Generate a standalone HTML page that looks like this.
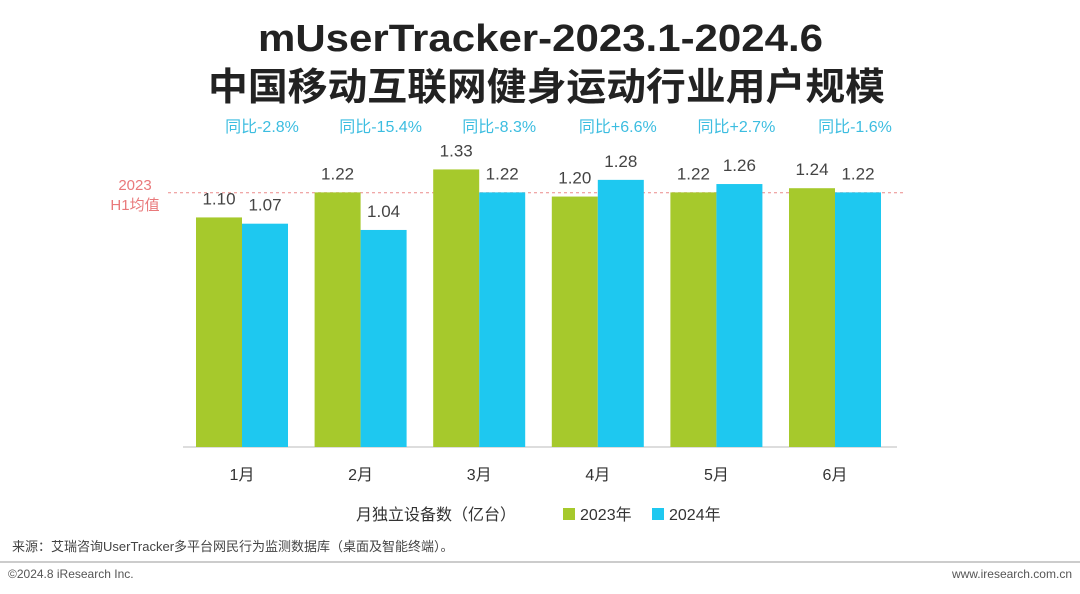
<!DOCTYPE html>
<html><head><meta charset="utf-8"><style>
body{margin:0;width:1080px;height:589px;background:#fff;overflow:hidden;font-family:"Liberation Sans","Noto Sans CJK SC",sans-serif}
svg text{font-family:"Liberation Sans","Noto Sans CJK SC",sans-serif}
</style></head><body>
<svg id="c" width="1080" height="589">
<text x="258" y="51" textLength="565" lengthAdjust="spacingAndGlyphs" font-size="38" font-weight="bold" fill="#222">mUserTracker-2023.1-2024.6</text>
<text x="208" y="100" textLength="677" lengthAdjust="spacingAndGlyphs" font-size="38" font-weight="bold" fill="#222">中国移动互联网健身运动行业用户规模</text>
<line x1="183" y1="447" x2="897" y2="447" stroke="#bbb" stroke-width="1"/>
<text x="135" y="190" text-anchor="middle" font-size="15" fill="#e9797b">2023</text>
<text x="135" y="210" text-anchor="middle" font-size="15" fill="#e9797b">H1均值</text>
<text x="436" y="520" text-anchor="middle" font-size="16" fill="#333">月独立设备数（亿台）</text>
<rect x="563" y="508" width="12" height="12" fill="#a6c92c"/>
<text x="580" y="520" font-size="16" fill="#333">2023年</text>
<rect x="652" y="508" width="12" height="12" fill="#1ec8f0"/>
<text x="669" y="520" font-size="16" fill="#333">2024年</text>
<text x="12" y="551" font-size="13" fill="#444">来源：艾瑞咨询UserTracker多平台网民行为监测数据库（桌面及智能终端）。</text>
<line x1="0" y1="562" x2="1080" y2="562" stroke="#999"/>
<text x="8" y="578" font-size="12" fill="#555">©2024.8 iResearch Inc.</text>
<text x="1072" y="578" text-anchor="end" font-size="12" fill="#555">www.iresearch.com.cn</text>
</svg>
<script>
const months=["1月","2月","3月","4月","5月","6月"];
const v2023=[1.10,1.22,1.33,1.20,1.22,1.24];
const v2024=[1.07,1.04,1.22,1.28,1.26,1.22];
const yoy=["同比-2.8%","同比-15.4%","同比-8.3%","同比+6.6%","同比+2.7%","同比-1.6%"];
const svg=document.getElementById('c');const NS="http://www.w3.org/2000/svg";
const y=v=>447-v*208.7;const cx=i=>242+i*118.6;const bw=46;
function mk(t,a){const e=document.createElementNS(NS,t);for(const k in a)e.setAttribute(k,a[k]);svg.appendChild(e);return e;}
const avg=v2023.reduce((a,b)=>a+b,0)/v2023.length;
const al=mk('line',{x1:168,x2:903,y1:y(avg),y2:y(avg),stroke:'#ec8a8a','stroke-dasharray':'3,3'});


months.forEach((m,i)=>{
 const b1=mk('rect',{x:cx(i)-bw,y:y(v2023[i]),width:bw,height:447-y(v2023[i]),fill:'#a6c92c'});
 
 
 const b2=mk('rect',{x:cx(i),y:y(v2024[i]),width:bw,height:447-y(v2024[i]),fill:'#1ec8f0'});
 
 
 const t1=mk('text',{x:cx(i)-bw/2,y:y(v2023[i])-13,'text-anchor':'middle','font-size':17,fill:'#444'});t1.textContent=v2023[i].toFixed(2);
 
 
 const t2=mk('text',{x:cx(i)+bw/2,y:y(v2024[i])-13,'text-anchor':'middle','font-size':17,fill:'#444'});t2.textContent=v2024[i].toFixed(2);
 
 
 const ml=mk('text',{x:cx(i),y:480,'text-anchor':'middle','font-size':16,fill:'#333'});ml.textContent=m;
 
 
 const yl=mk('text',{x:cx(i)+20,y:132,'text-anchor':'middle','font-size':16,fill:'#3cbde0'});yl.textContent=yoy[i];
 
 
});
</script>
</body></html>
